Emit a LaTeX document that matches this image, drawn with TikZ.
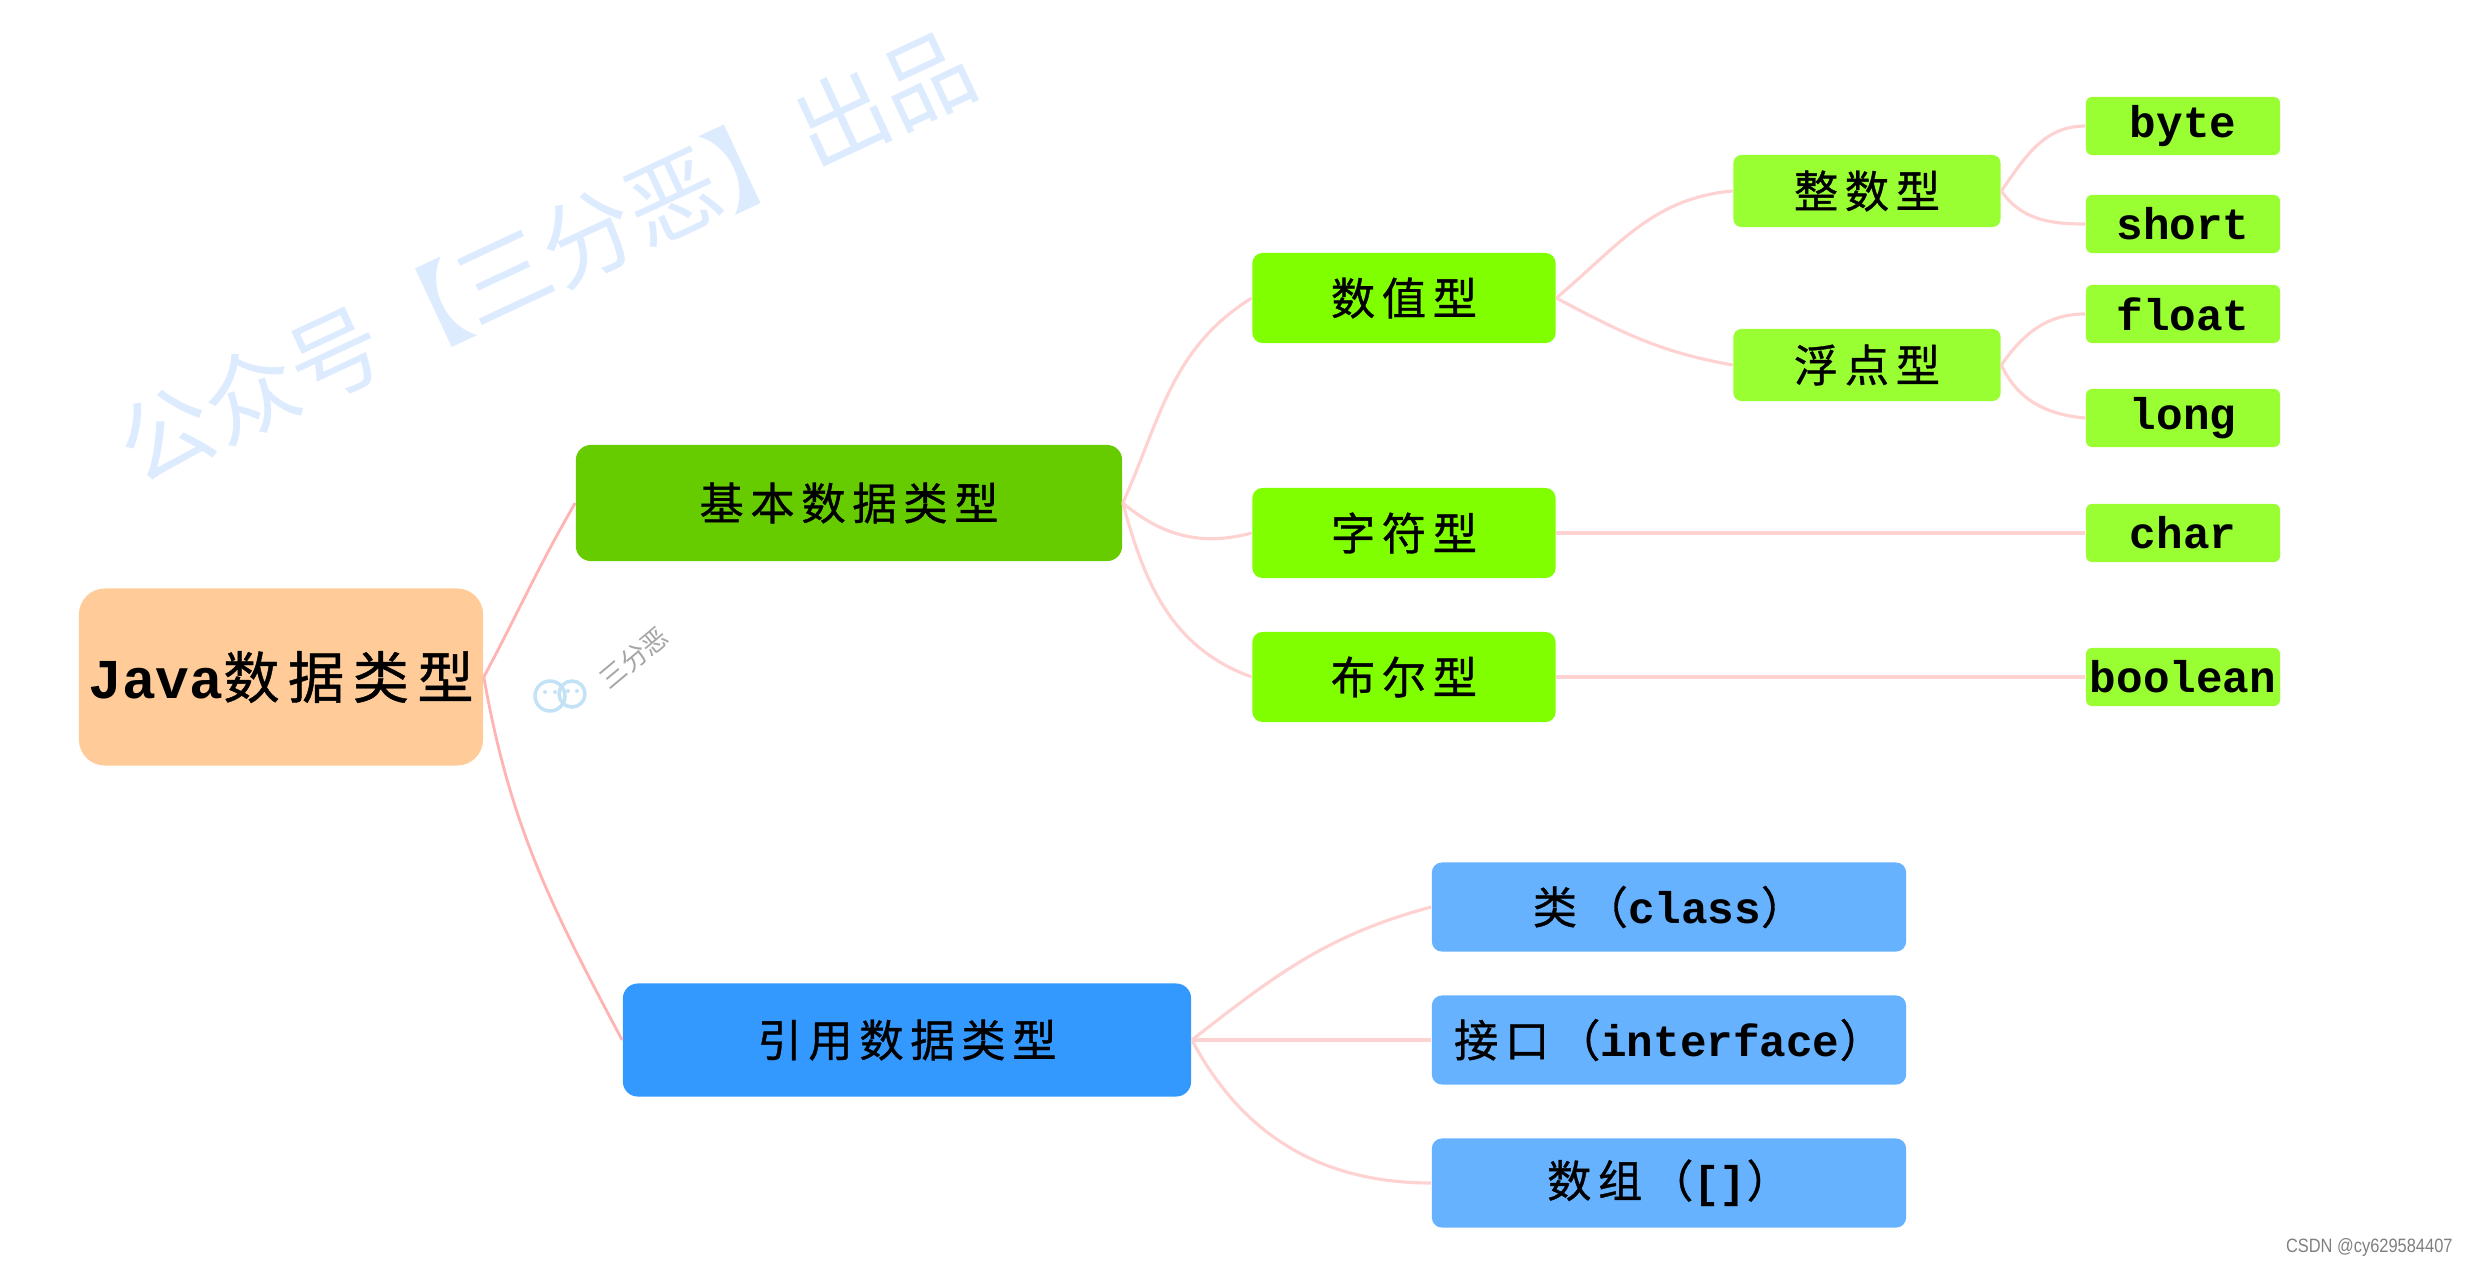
\documentclass[tikz,border=0pt]{standalone}
\usepackage{fontspec}
\usepackage{xcolor}
\setmainfont{Liberation Mono}
\newfontfamily\cjk{Noto Sans CJK SC}[LetterSpace=15,FakeBold=0.8]
\newfontfamily\cjkmark{Noto Sans CJK SC}
\newfontfamily\footfont{Liberation Sans}
\newcommand{\zh}[1]{{\mdseries\cjk #1}}
\definecolor{rootc}{HTML}{FFCC99}
\definecolor{basec}{HTML}{66CC00}
\definecolor{numc}{HTML}{80FF00}
\definecolor{leafc}{HTML}{99FF33}
\definecolor{refc}{HTML}{3399FF}
\definecolor{subrefc}{HTML}{66B2FF}
\definecolor{linkc}{HTML}{FFD2D2}
\definecolor{toplinkc}{HTML}{FFB3B3}
\definecolor{markc}{HTML}{DDEBFF}
\definecolor{iconc}{HTML}{C4E2F6}
\begin{document}
\begin{tikzpicture}[x=0.01cm,y=-0.01cm,
  box/.style={fill=#1,text=black,inner sep=0pt,align=center,font=\bfseries\fontsize{12.6}{14}\selectfont},
  mid/.style={box=#1,minimum width=3.03cm,minimum height=0.9cm,rounded corners=0.1cm},
  sub/.style={box=leafc,minimum width=2.67cm,minimum height=0.72cm,rounded corners=0.08cm},
  leaf/.style={box=leafc,minimum width=1.94cm,minimum height=0.58cm,rounded corners=0.06cm},
  rbox/.style={box=subrefc,minimum width=4.74cm,minimum height=0.89cm,rounded corners=0.1cm},
  link/.style={draw=linkc,line width=0.9pt},
  toplink/.style={draw=toplinkc,line width=0.8pt}]
\useasboundingbox (0,0) rectangle (2468,1266);
% watermark
\node[rotate=25,text=markc,font=\cjkmark\fontsize{26.5}{28}\selectfont] (mark) at (546,256) {公众号【三分恶】出品};
\node[rotate=40,text=gray!70,font=\cjkmark\fontsize{7.5}{8}\selectfont] (smallmark) at (634,658) {三分恶};
\draw[draw=iconc,line width=1pt] (550,696) circle (15) (572,694) circle (13);
\fill[iconc] (545,692) circle (2) (555,692) circle (2) (568,691) circle (2) (577,691) circle (2);
% boxes
\node[box=rootc,minimum width=4.04cm,minimum height=1.77cm,rounded corners=0.26cm,font=\bfseries\fontsize{16}{18}\selectfont] (java) at (281,677) {Java\zh{数据类型}};
\node[box=basec,minimum width=5.46cm,minimum height=1.16cm,rounded corners=0.15cm] (basic) at (849,503) {\zh{基本数据类型}};
\node[box=refc,minimum width=5.68cm,minimum height=1.13cm,rounded corners=0.15cm] (reftype) at (907,1040) {\zh{引用数据类型}};
\node[mid=numc] (num) at (1404,298) {\zh{数值型}};
\node[mid=numc] (chr) at (1404,533) {\zh{字符型}};
\node[mid=numc] (boo) at (1404,677) {\zh{布尔型}};
\node[sub] (int) at (1867,191) {\zh{整数型}};
\node[sub] (flo) at (1867,365) {\zh{浮点型}};
\node[leaf] (lbyte) at (2183,126) {byte};
\node[leaf] (lshort) at (2183,224) {short};
\node[leaf] (lfloat) at (2183,314) {float};
\node[leaf] (llong) at (2183,418) {long};
\node[leaf] (lchar) at (2183,533) {char};
\node[leaf] (lbool) at (2183,677) {boolean};
\node[rbox] (cls) at (1669,907) {\zh{类（}class\zh{）}};
\node[rbox] (ifc) at (1669,1040) {\zh{接口（}interface\zh{）}};
\node[rbox] (arr) at (1669,1183) {\zh{数组（}[]\zh{）}};
\node[text=gray,anchor=east,font=\footfont\fontsize{5.5}{6}\selectfont] (csdn) at (2465,1247) {\scalebox{0.85}[1]{CSDN @cy629584407}};
% links
\draw[toplink] (java.east) to[out=62,in=240] (basic.west);
\draw[toplink] (java.east) to[out=-80,in=118] (reftype.west);
\draw[link] (basic.east) to[out=66,in=212] (num.west);
\draw[link] (basic.east) to[out=-40,in=195] (chr.west);
\draw[link] (basic.east) to[out=-75,in=160] (boo.west);
\draw[link] (num.east) to[out=40,in=185] (int.west);
\draw[link] (num.east) to[out=-28,in=170] (flo.west);
\draw[link] (int.east) to[out=55,in=180] (lbyte.west);
\draw[link] (int.east) to[out=-55,in=180] (lshort.west);
\draw[link] (flo.east) to[out=55,in=180] (lfloat.west);
\draw[link] (flo.east) to[out=-65,in=175] (llong.west);
\draw[link] (chr.east) -- (lchar.west);
\draw[link] (boo.east) -- (lbool.west);
\draw[link] (reftype.east) to[out=38,in=195] (cls.west);
\draw[link] (reftype.east) -- (ifc.west);
\draw[link] (reftype.east) to[out=-62,in=180] (arr.west);
\end{tikzpicture}
\end{document}
